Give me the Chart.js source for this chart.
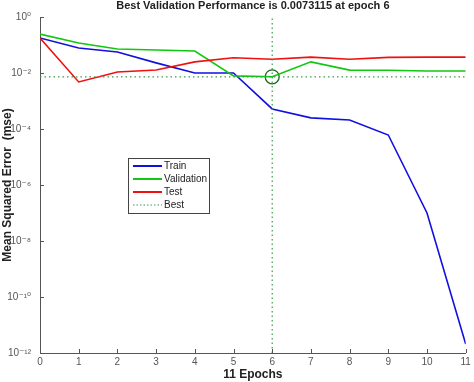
<!DOCTYPE html>
<html><head><meta charset="utf-8">
<script src="https://cdn.jsdelivr.net/npm/chart.js@4"></script>
<style>html,body{margin:0;padding:0;background:#fff}#wrap{width:474px;height:382px}</style>
</head><body><div id="wrap"><canvas id="c" width="474" height="382"></canvas></div>
<script>
const epochs = [0,1,2,3,4,5,6,7,8,9,10,11];
const trainMSE = [0.178,0.078,0.056,0.023,0.010,0.010,5.2e-4,2.5e-4,2.1e-4,6.1e-5,1.0e-7,2.1e-12];
const validMSE = [0.245,0.118,0.072,0.066,0.061,0.0079,0.0073115,0.025,0.0127,0.0125,0.0118,0.0118];
const testMSE  = [0.178,0.0048,0.0108,0.0128,0.025,0.035,0.031,0.037,0.031,0.036,0.037,0.037];
const bestEpoch = 6;
const bestPerf = 0.0073115;
const yTickValues = [1e-12,1e-10,1e-8,1e-6,1e-4,1e-2,1];
const xTickValues = [0,1,2,3,4,5,6,7,8,9,10,11];
const legendLabels = ['Train','Validation','Test','Best'];
const titleText = 'Best Validation Performance is 0.0073115 at epoch 6';
const xTitle = '11 Epochs';
const yTitle = 'Mean Squared Error  (mse)';

const BLUE='#1010e0', GREEN='#10c810', RED='#f01010', BEST='#3c9a4a';
const sup = {'0':'\u2070','1':'\u00b9','2':'\u00b2','3':'\u00b3','4':'\u2074','5':'\u2075','6':'\u2076','7':'\u2077','8':'\u2078','9':'\u2079','-':'\u207b'};
function supStr(n){return String(n).split('').map(c=>sup[c]).join('');}
const pts = arr => arr.map((v,i)=>({x:epochs[i],y:v}));

const deco = {
  id:'deco',
  afterDraw(chart){
    const ctx=chart.ctx, a=chart.chartArea, xs=chart.scales.x, ys=chart.scales.y;
    ctx.save();
    ctx.strokeStyle='#555'; ctx.lineWidth=1;
    yTickValues.forEach(v=>{const y=Math.round(ys.getPixelForValue(v))+0.5;ctx.beginPath();ctx.moveTo(a.left,y);ctx.lineTo(a.left+4,y);ctx.stroke();});
    xTickValues.forEach(v=>{const x=Math.round(xs.getPixelForValue(v))+0.5;ctx.beginPath();ctx.moveTo(x,a.bottom);ctx.lineTo(x,a.bottom-4);ctx.stroke();});
    // title
    ctx.fillStyle='#222'; ctx.font='bold 11px "Liberation Sans", Arial, sans-serif';
    ctx.textAlign='center'; ctx.textBaseline='middle';
    ctx.fillText(titleText,(a.left+a.right)/2,6);
    // legend
    const lx=128, ly=158, lw=81, lh=55;
    ctx.fillStyle='#fff'; ctx.fillRect(lx,ly,lw,lh);
    ctx.strokeStyle='#444'; ctx.strokeRect(lx+0.5,ly+0.5,lw,lh);
    const cols=[BLUE,GREEN,RED,BEST];
    ctx.font='10px "Liberation Sans", Arial, sans-serif'; ctx.textAlign='left';
    legendLabels.forEach((t,i)=>{
      const y=ly+8+i*13;
      ctx.strokeStyle=cols[i]; ctx.lineWidth=i===3?1:2; ctx.setLineDash(i===3?[1.5,2]:[]);
      ctx.beginPath();ctx.moveTo(lx+5,y);ctx.lineTo(lx+34,y);ctx.stroke();
      ctx.setLineDash([]);
      ctx.fillStyle='#222'; ctx.fillText(t,lx+36,y);
    });
    ctx.restore();
  }
};

new Chart(document.getElementById('c'),{
  type:'line',
  data:{datasets:[
    {label:'Best',data:[{x:0,y:bestPerf},{x:11,y:bestPerf}],borderColor:BEST,borderWidth:1.2,borderDash:[1.5,3],pointRadius:0},
    {label:'BestV',data:[{x:bestEpoch,y:1e-12},{x:bestEpoch,y:1}],borderColor:BEST,borderWidth:1.2,borderDash:[1.5,3],pointRadius:0},
    {label:'Test',data:pts(testMSE),borderColor:RED,borderWidth:1.6,pointRadius:0},
    {label:'Validation',data:pts(validMSE),borderColor:GREEN,borderWidth:1.6,pointRadius:0},
    {label:'Train',data:pts(trainMSE),borderColor:BLUE,borderWidth:1.6,pointRadius:0},
    {label:'BestPt',data:[{x:bestEpoch,y:bestPerf}],showLine:false,pointRadius:7,pointBorderWidth:1.3,pointBorderColor:'#1a6a1a',pointBackgroundColor:'rgba(0,0,0,0)'}
  ]},
  options:{
    responsive:false,animation:false,
    layout:{padding:{top:17,left:0,right:4,bottom:0}},
    plugins:{legend:{display:false},tooltip:{enabled:false},title:{display:false}},
    elements:{line:{tension:0}},
    scales:{
      x:{type:'linear',min:0,max:11,
        afterBuildTicks(s){s.ticks=xTickValues.map(v=>({value:v}));},
        afterFit(s){s.height=29;s.paddingLeft=0;s.paddingRight=0;},
        grid:{display:false,drawTicks:false},border:{display:true,color:'#555',width:1},
        ticks:{color:'#555',font:{size:10,family:'"Liberation Sans", Arial, sans-serif'},padding:3,maxRotation:0,autoSkip:false,callback:v=>String(v)},
        title:{display:true,text:xTitle,color:'#222',font:{size:12,weight:'bold',family:'"Liberation Sans", Arial, sans-serif'},padding:{top:0,bottom:0}}
      },
      y:{type:'logarithmic',min:1e-12,max:1,
        afterBuildTicks(s){s.ticks=yTickValues.map(v=>({value:v}));},
        afterFit(s){s.width=40;s.paddingTop=0;s.paddingBottom=0;},
        grid:{display:false,drawTicks:false},border:{display:true,color:'#555',width:1},
        ticks:{color:'#555',font:{size:10,family:'"Liberation Sans","DejaVu Sans", Arial, sans-serif'},padding:9,autoSkip:false,
          callback:v=>'10'+supStr(Math.round(Math.log10(v)))},
        title:{display:true,text:yTitle,color:'#222',font:{size:12,weight:'bold',family:'"Liberation Sans", Arial, sans-serif'},padding:{top:0,bottom:0}}
      }
    }
  },
  plugins:[deco]
});
</script></body></html>
